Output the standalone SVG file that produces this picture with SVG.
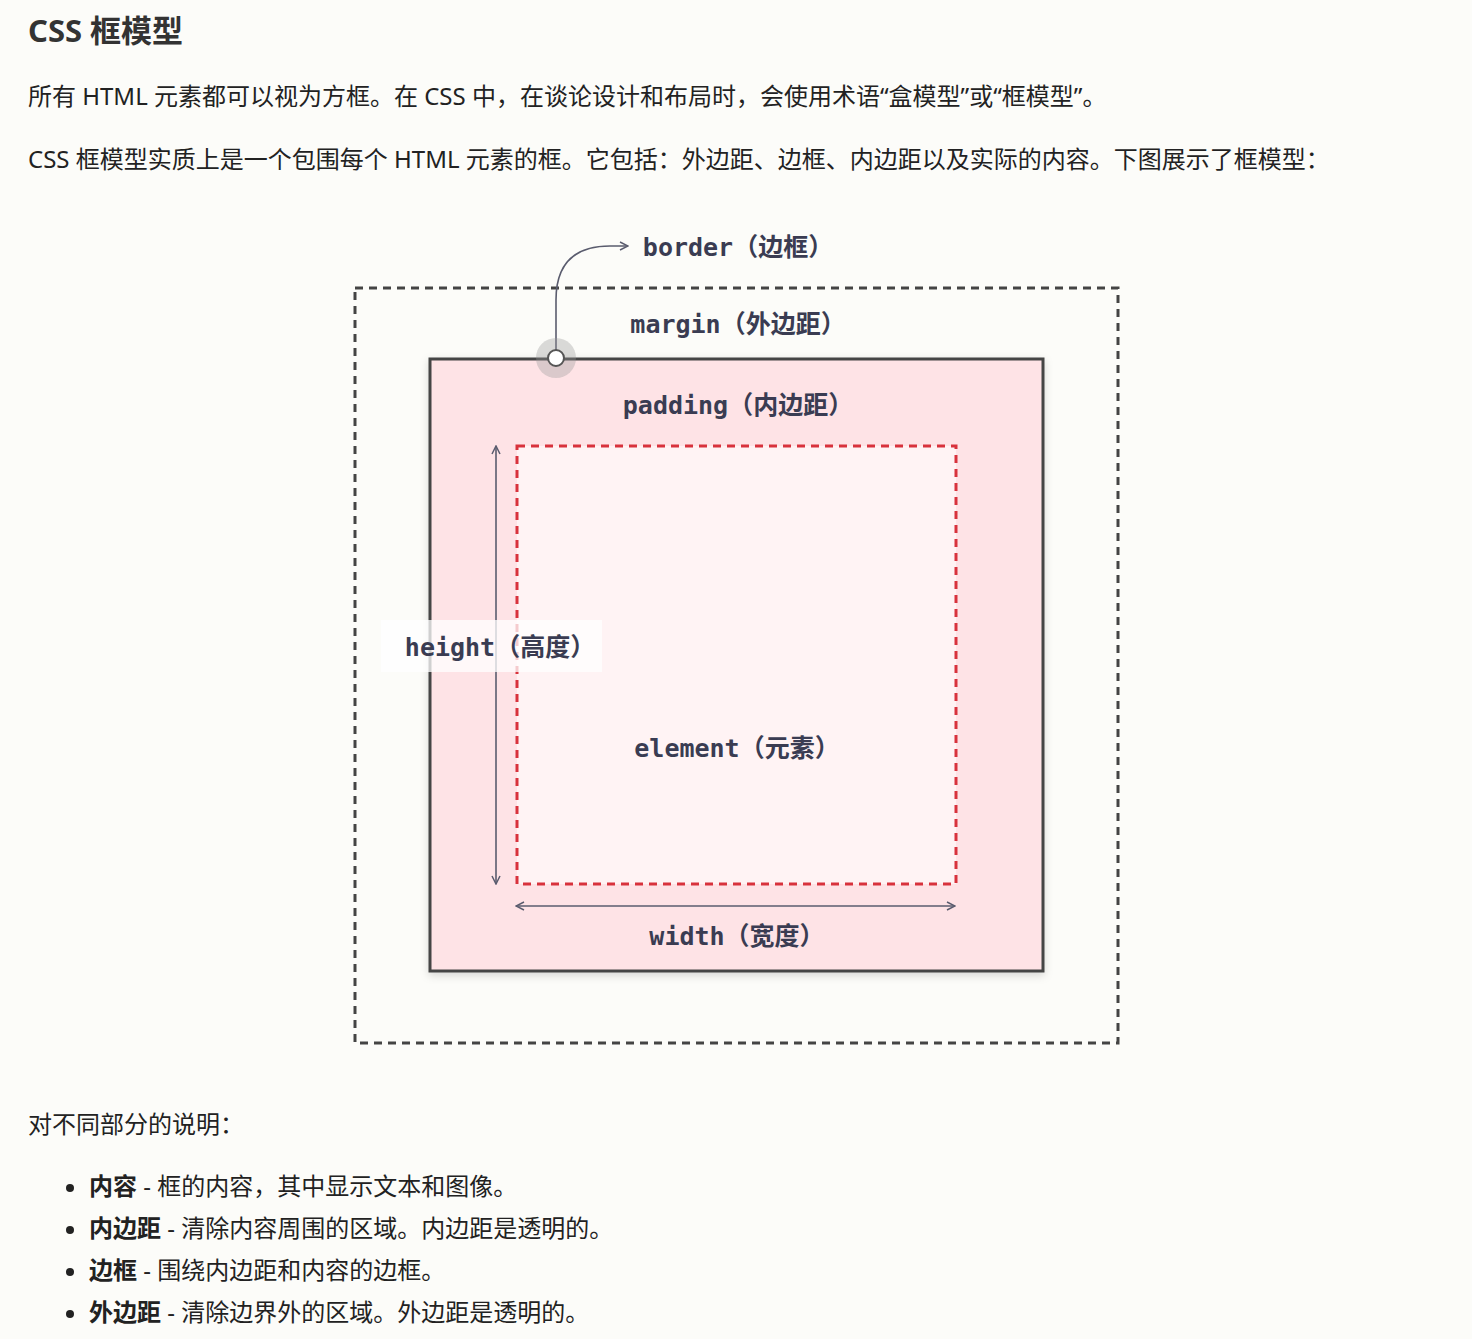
<svg xmlns="http://www.w3.org/2000/svg" width="1472" height="1339" viewBox="0 0 1472 1339">
<style>
.t{font-family:"Noto Sans","Noto Sans CJK SC",sans-serif;font-size:24px;fill:#222}
.b{font-weight:bold}
.m{font-family:"DejaVu Sans Mono","Noto Sans CJK SC",monospace;font-size:25px;font-weight:bold;fill:#3a3c52}
.c{stroke:#5a5c6e;stroke-width:1.6;fill:none}
</style>
<defs>
<marker id="a" viewBox="0 0 10 10" refX="9" refY="5" markerWidth="10" markerHeight="10" orient="auto-start-reverse" markerUnits="userSpaceOnUse"><path d="M1 1L9 5L1 9" fill="none" stroke="#5a5c6e" stroke-width="1.5"/></marker>
<filter id="sh"><feDropShadow dx="0" dy="3" stdDeviation="4" flood-opacity="0.15"/></filter>
</defs>
<rect width="1472" height="1339" fill="#fcfcf9"/>
<text class="t b" x="28" y="42" style="font-size:31px;fill:#333">CSS 框模型</text>
<text class="t" x="28" y="105">所有 HTML 元素都可以视为方框。在 CSS 中，在谈论设计和布局时，会使用术语“盒模型”或“框模型”。</text>
<text class="t" x="28" y="168">CSS 框模型实质上是一个包围每个 HTML 元素的框。它包括：外边距、边框、内边距以及实际的内容。下图展示了框模型：</text>
<g id="margin"><rect x="355" y="288" width="763" height="755" fill="none" stroke="#444" stroke-width="3" stroke-dasharray="8,6"/>
<text class="m" x="738" y="333" text-anchor="middle">margin（外边距）</text></g>
<g id="border"><rect x="430" y="359" width="613" height="612" fill="#fee3e6" stroke="#444" stroke-width="3" filter="url(#sh)"/>
<text class="m" x="738" y="256" text-anchor="middle">border（边框）</text></g>
<g id="padding"><text class="m" x="738" y="414" text-anchor="middle">padding（内边距）</text></g>
<g id="element"><rect x="517" y="446" width="439" height="438" fill="#fff3f4" stroke="#d8323c" stroke-width="3" stroke-dasharray="8,6"/>
<text class="m" x="737" y="757" text-anchor="middle">element（元素）</text></g>
<g id="connectors">
<path class="c" d="M556 358V300Q556 246 610 246H628" marker-end="url(#a)"/>
<line class="c" x1="496" y1="446" x2="496" y2="884" marker-start="url(#a)" marker-end="url(#a)"/>
<line class="c" x1="516" y1="906" x2="955" y2="906" marker-start="url(#a)" marker-end="url(#a)"/>
<circle cx="556" cy="358" r="20" fill="#999" opacity="0.35"/>
<circle cx="556" cy="358" r="8" fill="#fff" stroke="#555" stroke-width="2"/>
</g>
<g id="height"><rect x="381" y="620" width="221" height="52" fill="#fff" opacity="0.75"/>
<text class="m" x="500" y="656" text-anchor="middle">height（高度）</text></g>
<g id="width"><text class="m" x="737" y="945" text-anchor="middle">width（宽度）</text></g>
<text class="t" x="28" y="1133">对不同部分的说明：</text>
<g class="t">
<circle cx="70" cy="1188" r="4" fill="#222"/><text class="t" x="89" y="1195"><tspan class="b">内容</tspan> - 框的内容，其中显示文本和图像。</text>
<circle cx="70" cy="1230" r="4" fill="#222"/><text class="t" x="89" y="1237"><tspan class="b">内边距</tspan> - 清除内容周围的区域。内边距是透明的。</text>
<circle cx="70" cy="1272" r="4" fill="#222"/><text class="t" x="89" y="1279"><tspan class="b">边框</tspan> - 围绕内边距和内容的边框。</text>
<circle cx="70" cy="1314" r="4" fill="#222"/><text class="t" x="89" y="1321"><tspan class="b">外边距</tspan> - 清除边界外的区域。外边距是透明的。</text>
</g>
</svg>
